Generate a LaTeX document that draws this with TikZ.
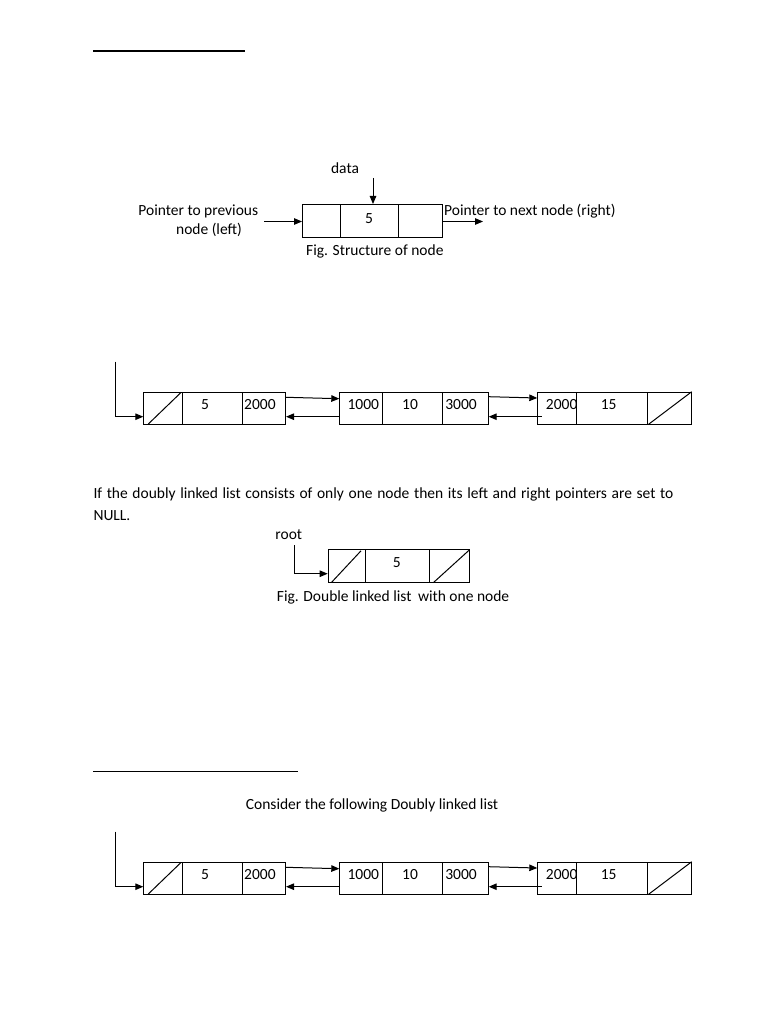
\documentclass[tikz,border=0pt]{standalone}
\usepackage{fontspec}
\setmainfont{Carlito}
\usetikzlibrary{arrows.meta,calc}
\newcommand\dllist[2]{%
  \node[cell,minimum width=39pt]   (#1a1) at (143.3,#2) {};
  \node[cell,minimum width=59.4pt] (#1a2) at (182.3,#2) {};
  \node[cell,minimum width=43.3pt] (#1a3) at (241.7,#2) {};
  \node[cell,minimum width=42.4pt] (#1b1) at (339.3,#2) {};
  \node[cell,minimum width=60.6pt] (#1b2) at (381.7,#2) {};
  \node[cell,minimum width=45.4pt] (#1b3) at (442.3,#2) {};
  \node[cell,minimum width=38.7pt] (#1c1) at (537.3,#2) {};
  \node[cell,minimum width=70.7pt] (#1c2) at (576,#2) {};
  \node[cell,minimum width=44pt]   (#1c3) at (646.7,#2) {};
  \draw[ln] ($(#1a1.south west)+(5,-1)$) -- ($(#1a1.north east)+(-2,0.5)$);
  \draw[ln] ($(#1c3.south west)+(1.6,-0.5)$) -- (#1c3.north east);
  \node[lbl]  (#1t1) at (205,{#2+17.8}) {5};
  \node[lblw] (#1t2) at (244,{#2+17.8}) {2000};
  \node[lbl]  (#1t3) at (363.3,{#2+17.8}) {1000};
  \node[lbl]  (#1t4) at (410,{#2+17.8}) {10};
  \node[lbl]  (#1t5) at (461,{#2+17.8}) {3000};
  \node[lbl]  (#1t6) at (561.7,{#2+17.8}) {2000};
  \node[lbl]  (#1t7) at (608.7,{#2+17.8}) {15};
  \coordinate (#1r) at (115.7,{#2-30});
  \draw[arr] (#1r) |- ($(#1a1.south west)+(0,-8.3)$);
  \draw[arr] ($(#1a3.north east)+(0,5.6)$) -- ($(#1b1.north west)+(0,7)$);
  \draw[arr] ($(#1b1.south west)+(0,-8.3)$) -- ($(#1a3.south east)+(0,-8.3)$);
  \draw[arr] ($(#1b3.north east)+(0,5)$) -- ($(#1c1.north west)+(0,6.3)$);
  \draw[arr] ($(#1c1.south west)+(4.4,-8.3)$) -- ($(#1b3.south east)+(0,-8.3)$);
}
\begin{document}
\begin{tikzpicture}[x=1pt,y=-1pt,
  every node/.style={font=\fontsize{15.5}{18}\selectfont, inner sep=0pt},
  cell/.style={draw, line width=1pt, minimum height=32.3pt, anchor=north west, inner sep=0pt},
  arr/.style={line width=1pt, -{Triangle[length=8pt,width=6.5pt]}},
  ln/.style={line width=1pt},
  lbl/.style={anchor=base},
  lblw/.style={anchor=base west}]
\useasboundingbox[fill=white] (0,0) rectangle (768,1024);

% heading rule
\draw[line width=1.4pt] (93,51) -- (245,51);

% structure of node
\node[cell,minimum width=38.3pt,minimum height=33pt] (s1) at (302,204) {};
\node[cell,minimum width=57.7pt,minimum height=33pt] (s2) at (340.3,204) {};
\node[cell,minimum width=44pt,minimum height=33pt]   (s3) at (398,204) {};
\node[lbl] (s5) at (369,223) {5};
\node[lbl] (data) at (345,174) {data};
\coordinate (dtop) at (373,178);
\draw[arr] (dtop) -- (dtop |- s2.north);
\node[lbl] (prev1) at (198.3,215.5) {Pointer to previous};
\node[lbl] (prev2) at (209,235) {node (left)};
\coordinate (pl) at (264,221.5);
\draw[arr] (pl) -- (pl -| s1.west);
\node[lblw] (next) at (444,215.5) {Pointer to next node (right)};
\coordinate (pr) at (483,221.5);
\draw[arr] (pr -| s3.east) -- (pr);
\node[lblw] (cap1) at (306,255) {Fig. Structure of node};

% first list
\dllist{p}{391.7}

% paragraph
\node[lblw] (para1) at (93.3,498.5) {\makebox[580pt][s]{If the doubly linked list consists of only one node then its left and right pointers are set to}};
\node[lblw] (para2) at (93.3,520.5) {NULL.};

% one node list
\node[lbl] (root) at (288.8,539.5) {root};
\node[cell,minimum width=37.3pt,minimum height=32.4pt] (o1) at (327.7,549.3) {};
\node[cell,minimum width=64.3pt,minimum height=32.4pt] (o2) at (365,549.3) {};
\node[cell,minimum width=40pt,minimum height=32.4pt]   (o3) at (429.3,549.3) {};
\draw[ln] ($(o1.south west)+(4,-0.5)$) -- ($(o1.north east)+(-5,1.5)$);
\draw[ln] ($(o3.south west)+(4,0)$) -- ($(o3.north east)+(-1,0.7)$);
\node[lbl] (o5) at (396.7,567) {5};
\coordinate (orr) at (294,545);
\draw[arr] (orr) |- ($(o1.south west)+(0,-9)$);
\node[lblw] (cap2) at (276.7,601) {Fig. Double linked list\hspace{3pt} with one node};

% second heading rule
\draw[line width=1.1pt] (93.3,771.7) -- (298.3,771.7);
\node[lblw] (consider) at (245.7,809.5) {Consider the following Doubly linked list};

% second list
\dllist{q}{861.7}
\end{tikzpicture}
\end{document}
